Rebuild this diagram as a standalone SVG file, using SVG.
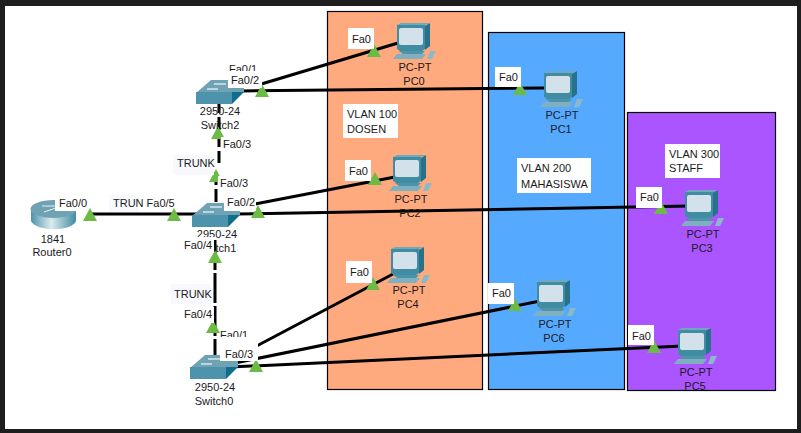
<svg xmlns="http://www.w3.org/2000/svg" width="801" height="433" viewBox="0 0 801 433">
<style>
text{font-family:"Liberation Sans",Arial,sans-serif;font-size:11px;fill:#1a1a1a}
.c{text-anchor:middle}
.zone{stroke:#000;stroke-width:1.2}
.lnk{stroke:#000;stroke-width:3;fill:none}
.tag{fill:#fff}
.tri{fill:#6cbb45}
</style>
<defs>
<linearGradient id="rt" x1="0" x2="1" y1="0" y2="0">
<stop offset="0" stop-color="#4d93ab"/><stop offset=".45" stop-color="#dcebef"/><stop offset="1" stop-color="#3f8ca3"/>
</linearGradient>
<symbol id="pc" overflow="visible">
<path d="M0 2H28V26L25 28H3L0 26Z" fill="#3f8ca3"/>
<path d="M28 3L33 0V23L28 27Z" fill="#27718a"/>
<path d="M0 2L4 0H33L28 2Z" fill="#6fa9bb"/>
<rect x="2" y="5" width="24" height="17" rx="2" fill="#d3e2ea"/>
<path d="M2 28H28L25 31H6Z" fill="#4d93ab"/>
<path d="M0 31H29L25 36H-4Z" fill="#7fb0c0"/>
<path d="M33 28H39L35 36H30Z" fill="#8cb9c7"/>
</symbol>
<symbol id="sw" overflow="visible">
<path d="M15 0H48V12L36 13H0Z" fill="#6fa3b4"/>
<path d="M0 12H36V24H0Z" fill="#4d93ab"/>
<path d="M36 12H48L36 24Z" fill="#0e6e8c"/>
<path d="M18 4H30M11 9H22" stroke="#d7e6ec" stroke-width="1.3"/>
</symbol>
<path id="t" class="tri" d="M0 -7L7 6H-7Z"/>
</defs>
<rect width="801" height="433" fill="#1e1e1e"/>
<rect x="5" y="6" width="792" height="423" fill="#fff"/>
<rect class="zone" x="327.500" y="11.500" width="155" height="378" fill="#ffa97f"/>
<rect class="zone" x="488.500" y="32.500" width="136" height="357" fill="#55aaff"/>
<rect class="zone" x="627.500" y="112.500" width="148" height="278" fill="#aa55ff"/>
<g id="connectors">
<path class="lnk" d="M90 214H214" stroke-width="2.500"/>
<path class="lnk" d="M219 100V163M216 172V205" stroke-dasharray="13 4"/>
<path class="lnk" d="M215 240V358" stroke-dasharray="30 3"/>
<path class="lnk" d="M258 85L398 43"/>
<path class="lnk" d="M240 91L545 88"/>
<path class="lnk" d="M255 204L395 177"/>
<path class="lnk" d="M235 214L690 206"/>
<path class="lnk" d="M230 360L393 274"/>
<path class="lnk" d="M230 364L540 301"/>
<path class="lnk" d="M230 367L683 346"/>
</g>
<g id="triangles">
<use href="#t" x="374" y="51"/><use href="#t" x="262" y="91"/><use href="#t" x="520" y="89"/>
<use href="#t" x="218" y="133"/><use href="#t" x="216" y="176"/><use href="#t" x="90" y="215"/>
<use href="#t" x="174" y="215"/><use href="#t" x="258" y="212"/><use href="#t" x="375" y="179"/>
<use href="#t" x="661" y="208"/><use href="#t" x="215" y="257"/><use href="#t" x="373" y="284"/>
<use href="#t" x="515" y="305"/><use href="#t" x="213" y="327"/>
<use href="#t" x="256" y="366"/><use href="#t" x="654" y="347"/>
</g>
<g id="Router0">
<path d="M31 209V221C36 232 72 232 76 221V209Z" fill="url(#rt)"/>
<ellipse cx="53.500" cy="209" rx="23" ry="9" fill="#6fa3b4"/>
<path d="M42 206H58L64 210M44 212L56 208" stroke="#e4eff3" fill="none"/>
<text class="c" x="53" y="243">1841</text><text class="c" x="52" y="256">Router0</text>
</g>
<g id="Switch2">
<use href="#sw" x="196" y="80"/>
<text class="c" x="220" y="115">2950-24</text><text class="c" x="220" y="129">Switch2</text>
</g>
<g id="Switch1">
<use href="#sw" x="192" y="203"/>
<text class="c" x="217" y="238">2950-24</text><text class="c" x="217" y="252">Switch1</text>
</g>
<g id="Switch0">
<use href="#sw" x="190" y="355"/>
<text class="c" x="215" y="391">2950-24</text><text class="c" x="214" y="405">Switch0</text>
</g>
<g id="PC0"><use href="#pc" x="397" y="23"/><text class="c" x="415" y="71">PC-PT</text><text class="c" x="414" y="85">PC0</text></g>
<g id="PC1"><use href="#pc" x="544" y="71"/><text class="c" x="562" y="119">PC-PT</text><text class="c" x="561" y="133">PC1</text></g>
<g id="PC2"><use href="#pc" x="393" y="155"/><text class="c" x="411" y="203">PC-PT</text><text class="c" x="410" y="217">PC2</text></g>
<g id="PC3"><use href="#pc" x="685" y="190"/><text class="c" x="703" y="238">PC-PT</text><text class="c" x="702" y="252">PC3</text></g>
<g id="PC4"><use href="#pc" x="391" y="247"/><text class="c" x="409" y="294">PC-PT</text><text class="c" x="408" y="308">PC4</text></g>
<g id="PC6"><use href="#pc" x="537" y="280"/><text class="c" x="555" y="328">PC-PT</text><text class="c" x="554" y="342">PC6</text></g>
<g id="PC5"><use href="#pc" x="678" y="328"/><text class="c" x="696" y="376">PC-PT</text><text class="c" x="695" y="390">PC5</text></g>
<g id="labels">
<text x="229" y="73">Fa0/1</text>
<rect class="tag" x="228" y="71" width="34" height="17"/><text x="231" y="84">Fa0/2</text>
<rect class="tag" x="348" y="28" width="26" height="21"/><text x="352" y="43">Fa0</text>
<rect class="tag" x="495" y="67" width="26" height="20"/><text x="499" y="81">Fa0</text>
<rect class="tag" x="345" y="160" width="26" height="21"/><text x="349" y="175">Fa0</text>
<rect class="tag" x="346" y="261" width="26" height="22"/><text x="350" y="276">Fa0</text>
<rect class="tag" x="636" y="187" width="26" height="21"/><text x="640" y="201">Fa0</text>
<rect class="tag" x="488" y="283" width="26" height="21"/><text x="492" y="297">Fa0</text>
<rect class="tag" x="628" y="325" width="26" height="20"/><text x="632" y="340">Fa0</text>
<rect class="tag" x="343" y="104" width="55" height="34"/><text x="347" y="118">VLAN 100</text><text x="347" y="133">DOSEN</text>
<rect class="tag" x="517" y="158" width="74" height="35"/><text x="521" y="172">VLAN 200</text><text x="521" y="188">MAHASISWA</text>
<rect class="tag" x="665" y="144" width="55" height="34"/><text x="669" y="158">VLAN 300</text><text x="669" y="172">STAFF</text>
<rect x="173" y="155" width="41" height="20" fill="#f8f8ff"/><text x="177" y="167">TRUNK</text>
<rect x="171" y="284" width="40" height="20" fill="#f8f8ff"/><text x="174" y="298">TRUNK</text>
<rect class="tag" x="221" y="137" width="32" height="16"/><text x="223" y="148">Fa0/3</text>
<rect class="tag" x="218" y="176" width="32" height="15"/><text x="220" y="187">Fa0/3</text>
<rect class="tag" x="55" y="196" width="33" height="15"/><text x="59" y="207">Fa0/0</text>
<rect x="109" y="195" width="30" height="17" fill="#f8f8ff"/><rect class="tag" x="139" y="195" width="33" height="17"/><text x="113" y="207">TRUN Fa0/5</text>
<rect class="tag" x="224" y="194" width="32" height="17"/><text x="227" y="206">Fa0/2</text>
<rect class="tag" x="182" y="237" width="32" height="16"/><text x="184" y="249">Fa0/4</text>
<rect class="tag" x="182" y="307" width="32" height="16"/><text x="184" y="318">Fa0/4</text>
<text x="220" y="339">Fa0/1</text>
<rect class="tag" x="220" y="337" width="38" height="24"/><text x="225" y="358">Fa0/3</text>
</g>
</svg>
